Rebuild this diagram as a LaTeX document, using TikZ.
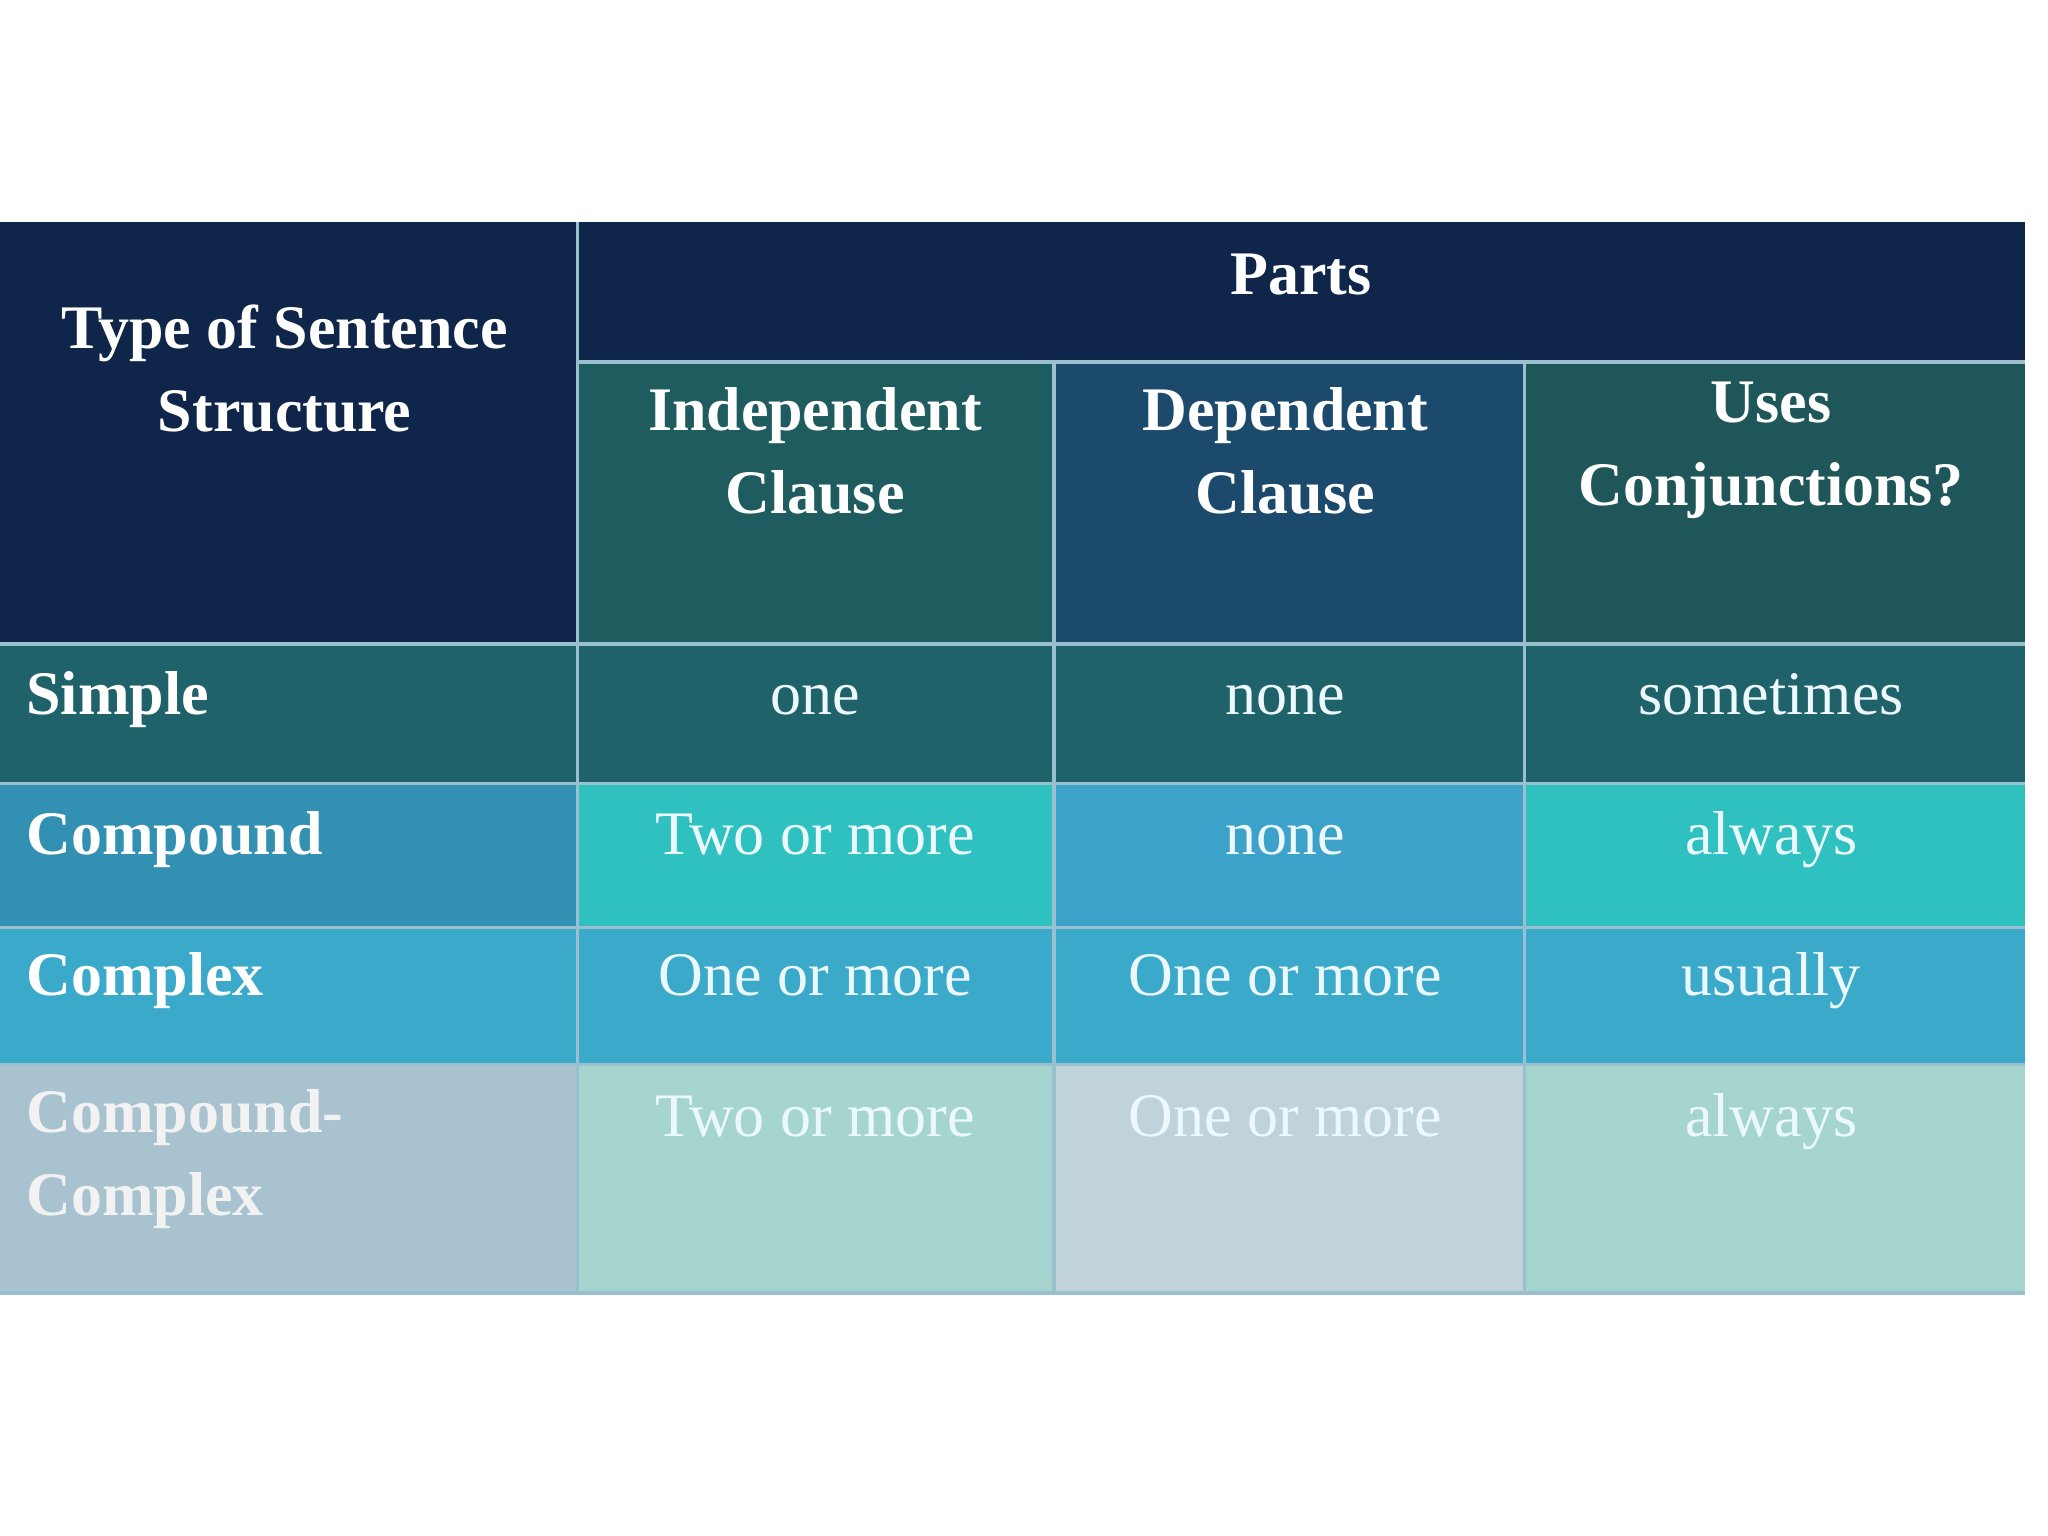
\documentclass[tikz,border=0pt]{standalone}
\usepackage{fontspec}
\setmainfont{Liberation Serif}
\begin{document}
\begin{tikzpicture}[x=0.02cm,y=-0.02cm,
 hd/.style={text=white,font=\fontsize{27}{36}\selectfont\bfseries,align=center},
 dt/.style={text=white!92!cyan,font=\fontsize{27}{36}\selectfont,anchor=base}]
\definecolor{navy}{HTML}{10254A}
\definecolor{sa}{HTML}{1F5C60}
\definecolor{sb}{HTML}{1C4A6C}
\definecolor{sc}{HTML}{1E5659}
\definecolor{r1}{HTML}{20626A}
\definecolor{r2l}{HTML}{3290B2}
\definecolor{r2a}{HTML}{2FC0C0}
\definecolor{r2b}{HTML}{3CA2CA}
\definecolor{r3}{HTML}{3BA9CA}
\definecolor{r4l}{HTML}{A8C3CF}
\definecolor{r4a}{HTML}{A6D5D0}
\definecolor{r4b}{HTML}{C0D3DA}
\useasboundingbox[fill=white] (0,0) rectangle (1568,1176);
% header
\fill[navy] (0,170) rectangle (1550,493);
\fill[sa] (442,277) rectangle (807,493);
\fill[sb] (807,277) rectangle (1167,493);
\fill[sc] (1167,277) rectangle (1550,493);
% rows
\fill[r1] (0,493) rectangle (1550,600);
\fill[r2l] (0,600) rectangle (442,710);
\fill[r2a] (442,600) rectangle (807,710);
\fill[r2b] (807,600) rectangle (1167,710);
\fill[r2a] (1167,600) rectangle (1550,710);
\fill[r3] (0,710) rectangle (1550,815);
\fill[r4l] (0,815) rectangle (442,990);
\fill[r4a] (442,815) rectangle (807,990);
\fill[r4b] (807,815) rectangle (1167,990);
\fill[r4a] (1167,815) rectangle (1550,990);
% grid
\begin{scope}[draw=white!55!cyan!60!gray,line width=1.5pt]
\draw (442,170) -- (442,990);
\draw (807,277) -- (807,990);
\draw (1167,277) -- (1167,990);
\draw (442,277) -- (1550,277);
\foreach \y in {493,600,710,815} \draw (0,\y) -- (1550,\y);
\draw (0,990) -- (1550,990);
\end{scope}
% header text
\node[hd] (t) at (218,282) {Type of Sentence\\Structure};
\node[hd] (p) at (996,210) {Parts};
\node[hd] (ic) at (624,345) {Independent\\Clause};
\node[hd] (dc) at (984,345) {Dependent\\Clause};
\node[hd] (uc) at (1356,345) {Uses\\Conjunctions?};
% row labels
\node[hd,anchor=base west] (s) at (14,547) {Simple};
\node[hd,anchor=base west] (c) at (14,654) {Compound};
\node[hd,anchor=base west] (x) at (14,762) {Complex};
\node[hd,anchor=north west,align=left,text=white!90!gray] (cc) at (14,828) {Compound-\\Complex};
% data
\node[dt] (a1) at (624,547) {one};
\node[dt] (b1) at (984,547) {none};
\node[dt] (c1) at (1356,547) {sometimes};
\node[dt] (a2) at (624,654) {Two or more};
\node[dt] (b2) at (984,654) {none};
\node[dt] (c2) at (1356,654) {always};
\node[dt] (a3) at (624,762) {One or more};
\node[dt] (b3) at (984,762) {One or more};
\node[dt] (c3) at (1356,762) {usually};
\node[dt] (a4) at (624,870) {Two or more};
\node[dt] (b4) at (984,870) {One or more};
\node[dt] (c4) at (1356,870) {always};
\end{tikzpicture}
\end{document}
